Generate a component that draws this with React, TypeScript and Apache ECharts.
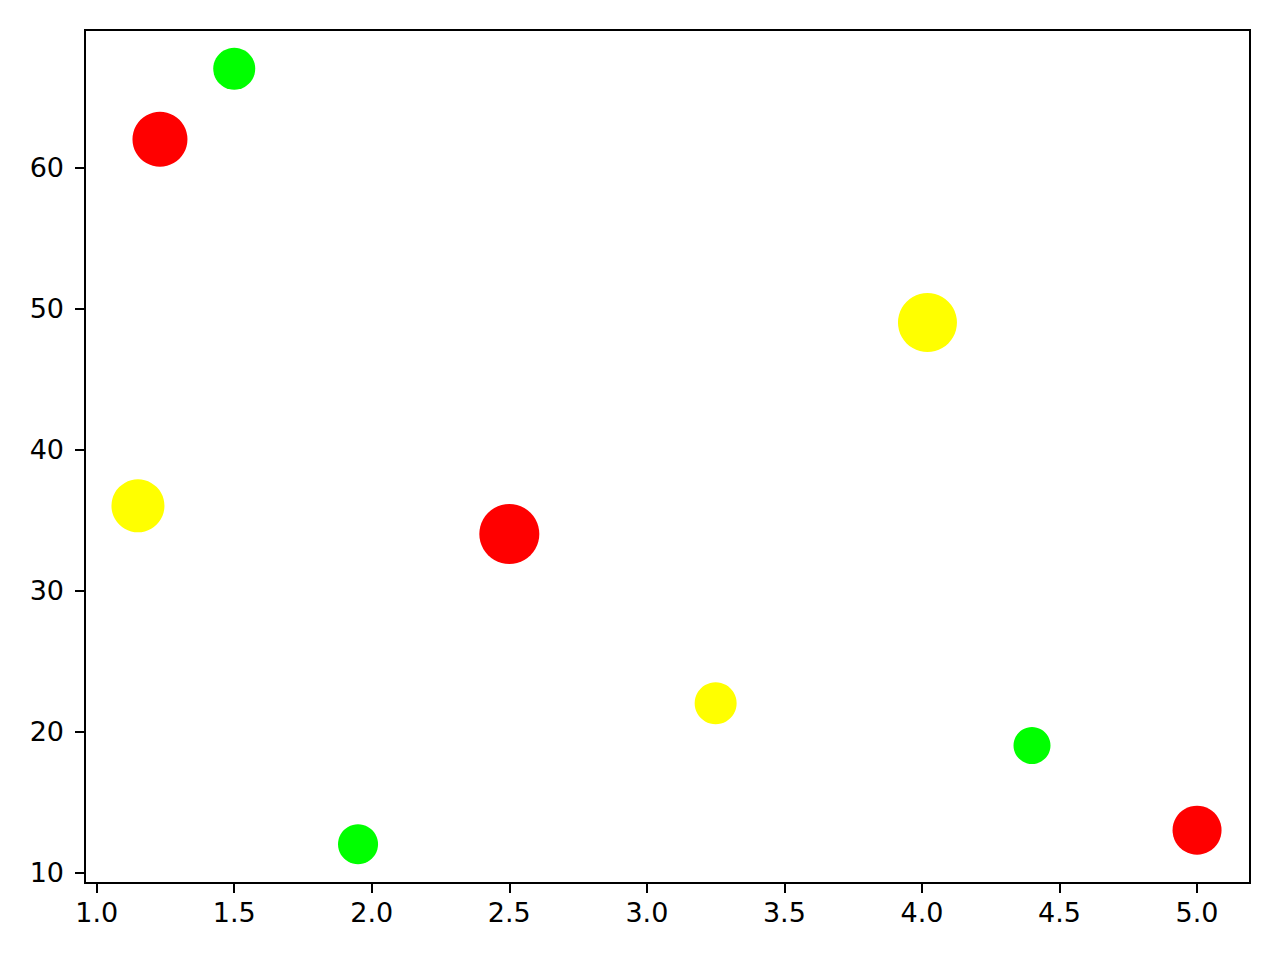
import React, { useEffect, useRef } from "react";
import * as echarts from "echarts";

const xValues = [1.23, 1.5, 1.15, 1.95, 2.5, 3.25, 4.02, 4.4, 5.0];
const yValues = [62, 67, 36, 12, 34, 22, 49, 19, 13];
const markerSizes = [55, 42, 53, 40, 60, 42, 59, 37, 49];
const pointColors = ["#ff0000", "#00ff00", "#ffff00", "#00ff00", "#ff0000", "#ffff00", "#ffff00", "#00ff00", "#ff0000"];
const xTicks = [1.0, 1.5, 2.0, 2.5, 3.0, 3.5, 4.0, 4.5, 5.0];
const yTicks = [10, 20, 30, 40, 50, 60];

export default function App() {
  const ref = useRef<HTMLDivElement>(null);
  useEffect(() => {
    if (!ref.current) return;
    const chart = echarts.init(ref.current, undefined, { renderer: "svg" });
    const data = xValues.map((x, i) => ({
      value: [x, yValues[i]],
      symbolSize: markerSizes[i],
      itemStyle: { color: pointColors[i], opacity: 1 },
    }));
    const labelStyle = {
      color: "#000",
      fontSize: 27,
      fontFamily: "DejaVu Sans",
    };
    chart.setOption({
      animation: false,
      backgroundColor: "#fff",
      grid: {
        left: 85,
        right: 30,
        top: 30,
        bottom: 77,
        show: true,
        borderColor: "#000",
        borderWidth: 2,
        backgroundColor: "transparent",
      },
      xAxis: {
        type: "value",
        min: 0.9575,
        max: 5.1925,
        splitLine: { show: false },
        axisLine: { show: true, onZero: false, lineStyle: { color: "#000", width: 2 } },
        axisTick: {
          show: true,
          inside: false,
          length: 10,
          lineStyle: { color: "#000", width: 2 },
          customValues: xTicks,
        },
        axisLabel: {
          ...labelStyle,
          margin: 16,
          customValues: xTicks,
          formatter: (v: number) => v.toFixed(1),
        },
      },
      yAxis: {
        type: "value",
        min: 9.25,
        max: 69.75,
        splitLine: { show: false },
        axisLine: { show: true, onZero: false, lineStyle: { color: "#000", width: 2 } },
        axisTick: {
          show: true,
          inside: false,
          length: 10,
          lineStyle: { color: "#000", width: 2 },
          customValues: yTicks,
        },
        axisLabel: {
          ...labelStyle,
          margin: 21,
          customValues: yTicks,
          formatter: (v: number) => String(Math.round(v)),
        },
      },
      series: [
        {
          type: "scatter",
          symbol: "circle",
          data,
          itemStyle: { opacity: 1 },
        },
      ],
    });
    return () => chart.dispose();
  }, []);
  return (
    <div
      ref={ref}
      style={{ position: "absolute", left: 0, top: 0, width: 1280, height: 960 }}
    />
  );
}
